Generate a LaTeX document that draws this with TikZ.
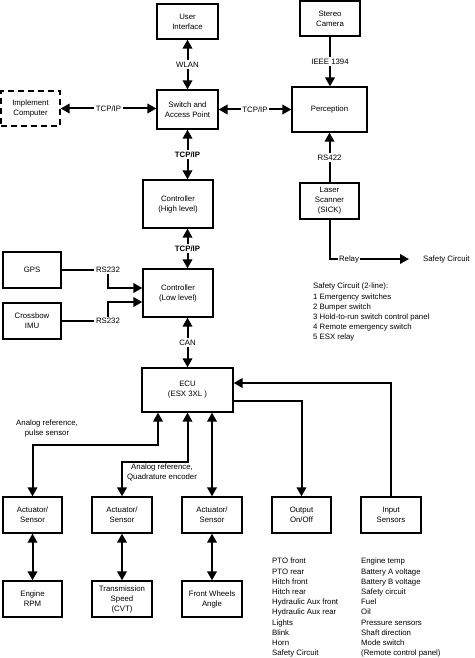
\documentclass[tikz,border=0pt]{standalone}
\usepackage{fontspec}
\setmainfont{Liberation Sans}
\usetikzlibrary{arrows.meta,calc}
\begin{document}
\begin{tikzpicture}[x=1pt,y=-1pt,
  every node/.style={font=\fontsize{7.8}{10}\selectfont},
  box/.style={draw,line width=1.3pt,align=center,inner sep=0pt},
  lab/.style={fill=white,inner sep=1.5pt},
  conn/.style={line width=2pt},
  fwd/.style={conn,-{Triangle[length=9pt,width=9.5pt]}},
  bidir/.style={conn,{Triangle[length=9pt,width=9.5pt]}-{Triangle[length=9pt,width=9.5pt]}},
  listtext/.style={anchor=north west,align=left,inner sep=0pt,font=\fontsize{7.8}{10.2}\selectfont}
]
\useasboundingbox (0,0) rectangle (474,658);

% boxes
\node[box,minimum width=61,minimum height=35] (ui) at (187.5,21.5) {User\\Interface};
\node[box,minimum width=60,minimum height=35] (cam) at (330,18.5) {Stereo\\Camera};
\node[box,dashed,dash pattern=on 6pt off 4pt,minimum width=59,minimum height=35] (impl) at (30.5,108.5) {Implement\\Computer};
\node[box,minimum width=61,minimum height=39] (sw) at (187.5,109.5) {Switch and\\Access Point};
\node[box,minimum width=75,minimum height=45] (perc) at (329.5,109.5) {Perception};
\node[box,minimum width=70,minimum height=48] (ctrlh) at (178,204) {Controller\\(High level)};
\node[box,minimum width=59,minimum height=36] (laser) at (329.5,201) {Laser\\Scanner\\(SICK)};
\node[box,minimum width=70,minimum height=48] (ctrll) at (178,293) {Controller\\(Low level)};
\node[box,minimum width=58,minimum height=36] (gps) at (32,270) {GPS};
\node[box,minimum width=58,minimum height=36] (imu) at (32,321) {Crossbow\\IMU};
\node[box,minimum width=91,minimum height=44] (ecu) at (187.5,390) {ECU\\(ESX 3XL )};
\node[box,minimum width=59,minimum height=36] (act1) at (32.5,515) {Actuator/\\Sensor};
\node[box,minimum width=60,minimum height=36] (act2) at (122,515) {Actuator/\\Sensor};
\node[box,minimum width=60,minimum height=36] (act3) at (212,515) {Actuator/\\Sensor};
\node[box,minimum width=59,minimum height=36] (out) at (301.5,515) {Output\\On/Off};
\node[box,minimum width=60,minimum height=36] (inp) at (391,515) {Input\\Sensors};
\node[box,minimum width=59,minimum height=36] (rpm) at (32.5,599) {Engine\\RPM};
\node[box,minimum width=60,minimum height=36] (trans) at (122,599) {Transmission\\Speed\\(CVT)};
\node[box,minimum width=60,minimum height=36] (wheels) at (212,599) {Front Wheels\\Angle};

% top connectors
\draw[bidir] (ui.south) -- node[lab]{WLAN} (sw.north);
\draw[fwd] (cam.south) -- node[lab]{IEEE 1394} (cam.south |- perc.north);
\draw[bidir] (impl.east) -- node[lab]{TCP/IP} (impl.east -| sw.west);
\draw[bidir] (sw.east) -- node[lab]{TCP/IP} (sw.east -| perc.west);
\draw[bidir] (sw.south) -- node[lab,font=\fontsize{7.8}{10}\selectfont\bfseries]{TCP/IP} (sw.south |- ctrlh.north);
\draw[fwd] (laser.north) -- node[lab]{RS422} (perc.south);
\draw[bidir] (ctrlh.south -| sw.south) -- node[lab,font=\fontsize{7.8}{10}\selectfont\bfseries]{TCP/IP} (ctrll.north -| sw.south);
\draw[bidir] (ctrll.south -| ecu.north) -- node[lab]{CAN} (ecu.north);

% RS232
\node[lab] (rs1) at (108,270) {RS232};
\draw[conn] (gps.east) -- (rs1.west);
\draw[fwd] (rs1.south) |- ([yshift=5pt]ctrll.west);
\node[lab] (rs2) at (108,321) {RS232};
\draw[conn] (imu.east) -- (rs2.west);
\draw[fwd] (rs2.north) |- ([yshift=-9pt]ctrll.west);

% relay
\node[lab,inner sep=1pt] (relay) at (349,259) {Relay};
\draw[conn] (laser.south) |- (relay.west);
\node[anchor=west,inner sep=0pt] (sc) at (423,259) {Safety Circuit};
\draw[fwd] (relay.east) -- ([xshift=-14pt]sc.west);

\node[listtext] (sclist) at (313,283) {Safety Circuit (2-line):\\1 Emergency switches\\2 Bumper switch\\3 Hold-to-run switch control panel\\4 Remote emergency switch\\5 ESX relay};

% ECU connectors
\draw[bidir] ([xshift=-29.5pt]ecu.south) -- ++(0,32) -| (act1.north);
\draw[bidir] (ecu.south) -- ++(0,49) -| (act2.north);
\draw[bidir] (act3.north |- ecu.south) -- (act3.north);
\draw[fwd] ([yshift=-11pt]ecu.east) -| (out.north);
\draw[fwd] (inp.north) |- ([yshift=7pt]ecu.east);

\node[align=center] (al1) at (47,428) {Analog reference,\\pulse sensor};
\node[align=center] (al2) at (162,472) {Analog reference,\\Quadrature encoder};

% lower arrows
\draw[bidir] (act1.south) -- (rpm.north);
\draw[bidir] (act2.south) -- (trans.north);
\draw[bidir] (act3.south) -- (wheels.north);

\node[listtext] (outlist) at (272,558) {PTO front\\PTO rear\\Hitch front\\Hitch rear\\Hydraulic Aux front\\Hydraulic Aux rear\\Lights\\Blink\\Horn\\Safety Circuit};
\node[listtext] (inlist) at (361,558) {Engine temp\\Battery A voltage\\Battery B voltage\\Safety circuit\\Fuel\\Oil\\Pressure sensors\\Shaft direction\\Mode switch\\(Remote control panel)};
\end{tikzpicture}
\end{document}
